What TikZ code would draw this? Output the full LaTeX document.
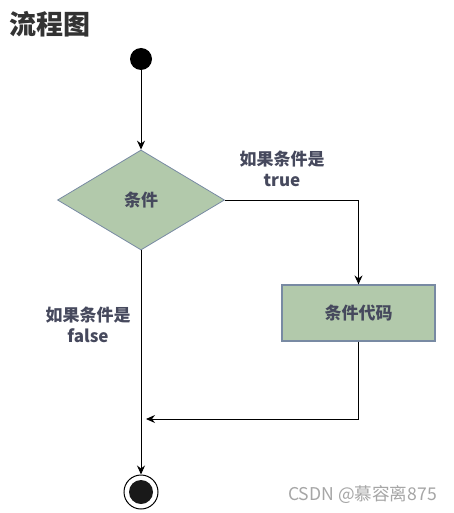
\documentclass[tikz,border=0pt]{standalone}
\usepackage{fontspec}
\usepackage{tikz}
\usetikzlibrary{arrows.meta,shapes.geometric}
\newfontfamily\cjk{Noto Sans CJK SC}
\definecolor{sage}{HTML}{B2C9AB}
\definecolor{sageline}{HTML}{788AA3}
\definecolor{labelgray}{HTML}{46495D}
\definecolor{titlegray}{HTML}{333333}
\tikzset{
	flow/.style={line width=1pt, -{Stealth[length=9pt, width=8pt, inset=3pt]}},
	lbl/.style={font=\cjk\bfseries\fontsize{17}{21}\selectfont, text=labelgray, align=center, inner sep=0pt},
}

\begin{document}
\begin{tikzpicture}[x=1pt, y=-1pt]
			%%%%% START %%%%%
			
			\useasboundingbox[fill=white] (0, 0) rectangle (453, 513);
			
			\node[anchor=west, inner sep=0pt, font=\cjk\bfseries\fontsize{27}{30}\selectfont, text=titlegray] (title) at (9, 24.5) {流程图};
			
			\node[circle, fill=black, minimum size=22pt, inner sep=0pt] (start) at (141, 59) {};
			
			\node[diamond, aspect=1.67, draw=sageline, fill=sage, line width=0.8pt, minimum width=167pt, minimum height=100pt, inner sep=0pt, lbl] (cond) at (141, 200) {条件};
			
			\node[rectangle, draw=sageline, fill=sage, line width=1.2pt, minimum width=153pt, minimum height=56pt, inner sep=0pt, lbl] (code) at (358.5, 313) {条件代码};
			
			\node[circle, draw=black, line width=1pt, minimum size=34pt, inner sep=0pt] (finish) at (141, 492) {};
			\fill[black!90] (finish.center) circle (12);
			
			\coordinate (join) at (146, 419);
			
			\draw[flow] (start) -- (cond.north);
			\draw[flow] (cond.east) -| (code.north);
			\draw[flow] (code.south) |- (join);
			\draw[flow] (cond.south) -- (finish.north);
			
			\node[lbl] (truelbl) at (282, 168.5) {如果条件是\\true};
			\node[lbl] (falselbl) at (88, 325) {如果条件是\\false};
			
			\node[inner sep=0pt, font=\cjk\fontsize{17.6}{20}\selectfont, text=black!35] (mark) at (362.5, 495) {CSDN @慕容离875};
			
			%%%%% END %%%%%
\end{tikzpicture}
\end{document}
